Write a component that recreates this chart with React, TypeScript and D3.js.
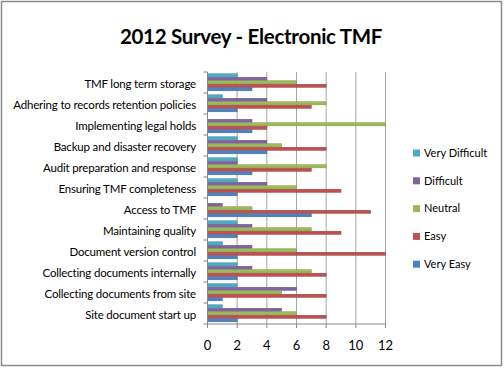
import React, { useRef, useEffect } from "react";
import * as d3 from "d3";

// categories listed top to bottom as they appear
const categories = [
  "TMF long term storage",
  "Adhering to records retention policies",
  "Implementing legal holds",
  "Backup and disaster recovery",
  "Audit preparation and response",
  "Ensuring TMF completeness",
  "Access to TMF",
  "Maintaining quality",
  "Document version control",
  "Collecting documents internally",
  "Collecting documents from site",
  "Site document start up",
];

const veryEasy = [3, 2, 3, 4, 3, 2, 7, 2, 2, 2, 1, 2];
const easy = [8, 7, 4, 8, 7, 9, 11, 9, 12, 8, 8, 8];
const neutral = [6, 8, 12, 5, 8, 6, 3, 7, 6, 7, 5, 6];
const difficult = [4, 4, 3, 4, 2, 4, 1, 3, 3, 3, 6, 5];
const veryDifficult = [2, 1, 0, 2, 2, 2, 0, 2, 1, 2, 2, 1];

const xTicks = [0, 2, 4, 6, 8, 10, 12];

// legend order, top to bottom (same as bar order inside a group)
const seriesNames = ["Very Difficult", "Difficult", "Neutral", "Easy", "Very Easy"];
const seriesValues = [veryDifficult, difficult, neutral, easy, veryEasy];
const seriesColors = ["#4BACC6", "#8064A2", "#9BBB59", "#C0504D", "#4F81BD"];

const W = 504,
  H = 368;

const App = () => {
  const ref = useRef<SVGSVGElement>(null);

  useEffect(() => {
    const svg = d3.select(ref.current);
    svg.selectAll("*").remove();
    const font = "Lato, 'Open Sans', sans-serif";

    svg
      .append("rect")
      .attr("x", 1.5)
      .attr("y", 1.5)
      .attr("width", 500)
      .attr("height", 364)
      .attr("fill", "#fff")
      .attr("stroke", "#8c8c8c")
      .attr("stroke-width", 1.5);

    svg
      .append("text")
      .attr("x", 251)
      .attr("y", 44)
      .attr("text-anchor", "middle")
      .attr("font-family", font)
      .attr("font-weight", "bold")
      .attr("font-size", 20.5)
      .attr("letter-spacing", -0.3)
      .attr("fill", "#000")
      .text("2012 Survey - Electronic TMF");

    const left = 207.5,
      right = 385.5,
      top = 72,
      bottom = 324;

    const x = d3.scaleLinear().domain([0, 12]).range([left, right]);
    const y = d3
      .scaleBand()
      .domain(categories)
      .range([top, bottom])
      .paddingInner(0.17)
      .paddingOuter(0.085);
    const inner = d3
      .scaleBand()
      .domain(seriesNames)
      .range([0, y.bandwidth()]);

    // gridlines
    svg
      .append("g")
      .selectAll("line")
      .data(xTicks.slice(1))
      .join("line")
      .attr("x1", (d) => x(d))
      .attr("x2", (d) => x(d))
      .attr("y1", top)
      .attr("y2", bottom)
      .attr("stroke", "#a6a6a6")
      .attr("stroke-width", 1);

    // bars
    seriesNames.forEach((s, si) => {
      svg
        .append("g")
        .selectAll("rect")
        .data(categories)
        .join("rect")
        .attr("x", x(0))
        .attr("y", (c) => (y(c) as number) + (inner(s) as number))
        .attr("width", (c, i) => x(seriesValues[si][i]) - x(0))
        .attr("height", inner.bandwidth() - 0.4)
        .attr("fill", seriesColors[si])
        .attr("stroke", d3.color(seriesColors[si])!.darker(0.6).toString())
        .attr("stroke-width", 0.5);
    });

    // y axis
    const yAxis = svg.append("g");
    yAxis
      .append("line")
      .attr("x1", left)
      .attr("x2", left)
      .attr("y1", top)
      .attr("y2", bottom)
      .attr("stroke", "#868686");
    yAxis
      .selectAll("line.tick")
      .data(d3.range(categories.length + 1))
      .join("line")
      .attr("class", "tick")
      .attr("x1", left - 4)
      .attr("x2", left)
      .attr("y1", (i) => top + i * y.step())
      .attr("y2", (i) => top + i * y.step())
      .attr("stroke", "#868686");
    yAxis
      .selectAll("text")
      .data(categories)
      .join("text")
      .attr("x", 196)
      .attr("y", (c) => (y(c) as number) + y.bandwidth() / 2 + 1.5)
      .attr("dy", "0.35em")
      .attr("text-anchor", "end")
      .attr("font-family", font)
      .attr("font-size", 11.5)
      .attr("letter-spacing", -0.18)
      .attr("fill", "#000")
      .text((c) => c);

    // x axis
    const xAxis = svg.append("g");
    xAxis
      .append("line")
      .attr("x1", left)
      .attr("x2", right)
      .attr("y1", bottom)
      .attr("y2", bottom)
      .attr("stroke", "#868686");
    xAxis
      .selectAll("line.tick")
      .data(xTicks)
      .join("line")
      .attr("class", "tick")
      .attr("x1", (d) => x(d))
      .attr("x2", (d) => x(d))
      .attr("y1", bottom)
      .attr("y2", bottom + 4)
      .attr("stroke", "#868686");
    xAxis
      .selectAll("text")
      .data(xTicks)
      .join("text")
      .attr("x", (d) => x(d))
      .attr("y", 350)
      .attr("text-anchor", "middle")
      .attr("font-family", font)
      .attr("font-size", 13)
      .attr("fill", "#000")
      .text((d) => d);

    // legend
    const legend = svg
      .append("g")
      .selectAll("g")
      .data(seriesNames)
      .join("g")
      .attr("transform", (d, i) => `translate(413,${153 + i * 27.8})`);
    legend
      .append("rect")
      .attr("x", 0)
      .attr("y", -3.5)
      .attr("width", 7)
      .attr("height", 7)
      .attr("fill", (d, i) => seriesColors[i]);
    legend
      .append("text")
      .attr("x", 11)
      .attr("y", 0)
      .attr("dy", "0.35em")
      .attr("font-family", font)
      .attr("font-size", 11)
      .attr("fill", "#000")
      .text((d) => d);
  }, []);

  return (
    <svg
      ref={ref}
      width={W}
      height={H}
      style={{ position: "fixed", left: 0, top: 0 }}
    />
  );
};

export default App;
